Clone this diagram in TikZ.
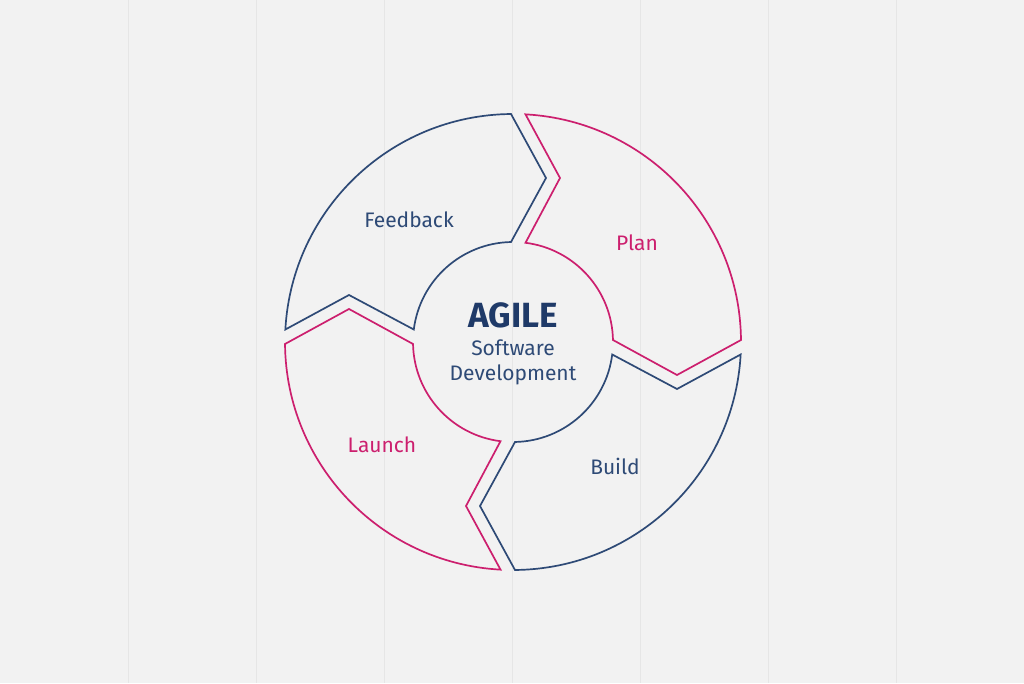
\documentclass[tikz,border=0pt]{standalone}
\usepackage{fontspec}
\setmainfont{Fira Sans}
\definecolor{bgc}{HTML}{F2F2F2}
\definecolor{gridc}{HTML}{E6E6E6}
\definecolor{navy}{HTML}{2E4A76}
\definecolor{navydark}{HTML}{1F3A68}
\definecolor{pinkc}{HTML}{CC1F6E}
\tikzset{
  seg/.style={line width=1.7pt, line join=miter},
  lbl/.style={font=\fontsize{21}{24}\selectfont, anchor=center, inner sep=0pt},
}
\begin{document}
\begin{tikzpicture}[x=1pt,y=1pt]
\useasboundingbox (0,0) rectangle (1024,683);
\fill[bgc] (0,0) rectangle (1024,683);
\foreach \gx in {128,256,384,512,640,768,896}{
  \draw[gridc, line width=1pt] (\gx+0.5,0) -- (\gx+0.5,683);
}
\coordinate (ctr) at (513,341);
\foreach \rot/\col in {0/pinkc,-90/navy,-180/pinkc,90/navy}{
  \begin{scope}[shift={(ctr)}, rotate=\rot]
    \draw[seg, \col] (86.86:228) arc[start angle=86.86, end angle=0.50, radius=228]
      -- (164,-33) -- (1.15:100) arc[start angle=1.15, end angle=82.82, radius=100]
      -- (47,164) -- cycle;
  \end{scope}
}
\node[lbl, text=navy] (feedback) at (409,683-220) {Feedback};
\node[lbl, text=pinkc] (plan) at (637,683-243) {Plan};
\node[lbl, text=pinkc] (launch) at (382,683-445) {Launch};
\node[lbl, text=navy] (build) at (615,683-466) {Build};
\node[lbl, text=navydark, font=\fontsize{35}{40}\selectfont\bfseries] (agile) at (513,683-315) {AGILE};
\node[lbl, text=navy] (software) at (513,683-348) {Software};
\node[lbl, text=navy] (devel) at (513,683-375) {Development};
\end{tikzpicture}
\end{document}
